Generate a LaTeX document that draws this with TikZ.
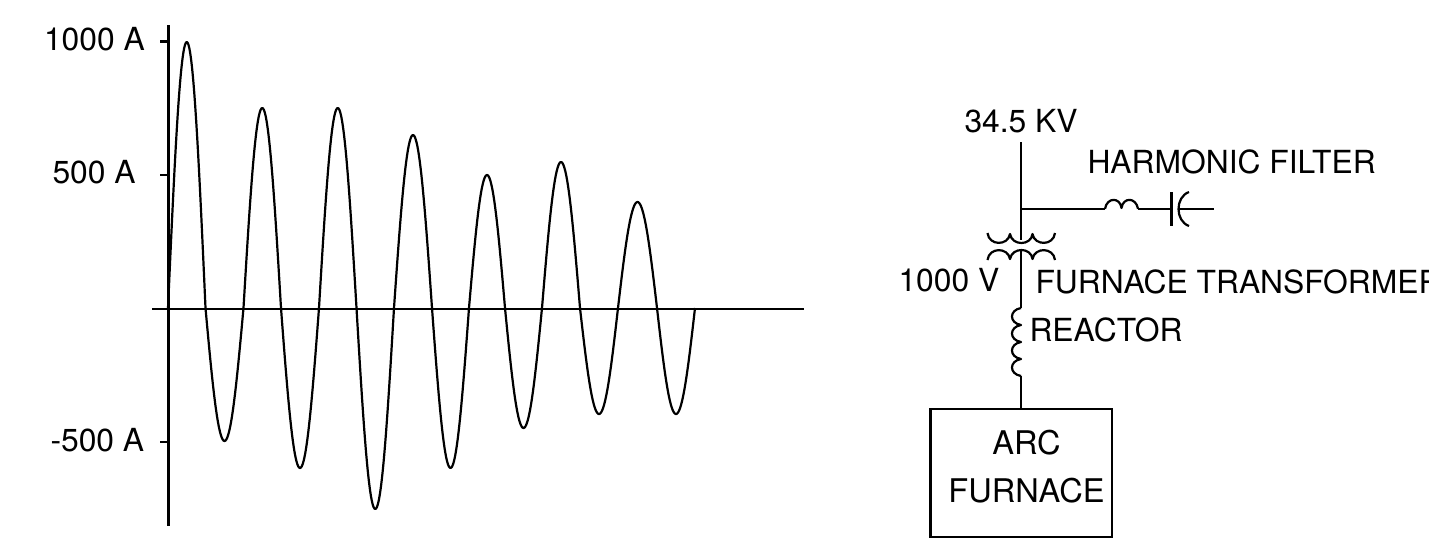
\documentclass[tikz,border=0pt]{standalone}
\usepackage{fontspec}
\setmainfont{TeX Gyre Heros}
\tikzset{
  wire/.style={line width=1.1pt,line join=round},
  wave/.style={line width=1.1pt,line join=round},
  lbl/.style={inner sep=0pt,outer sep=0pt,anchor=base west,font=\fontsize{15.9pt}{18pt}\selectfont},
  boxlbl/.style={inner sep=0pt,outer sep=0pt,anchor=base,font=\fontsize{16.3pt}{18pt}\selectfont},
  box/.style={draw,line width=1.1pt,outer sep=0pt,minimum width=90.7pt,minimum height=64pt,inner sep=0pt,anchor=north west}
}
\newcommand{\halfwave}[3]{%
  \draw[wave] plot[domain=0:180,samples=45,smooth] ({#1+(#2-#1)*\x/180},{308-(#3)*sin(\x)});}
\begin{document}
\begin{tikzpicture}[x=0.5pt,y=-0.5pt]
\useasboundingbox (0,0) rectangle (1429,553);
\clip (0,0) rectangle (1429,553);
% axes
\coordinate (ytop) at (168.5,25);
\coordinate (ybot) at (168.5,526);
\coordinate (xl) at (152,308.8);
\coordinate (xr) at (804,308.8);
\draw[wire] (ytop) -- (ybot);
\draw[wire] (xl) -- (xr);
\coordinate (t1a) at (160,41.5); \coordinate (t1b) at (168.5,41.5);
\coordinate (t2a) at (160,175); \coordinate (t2b) at (168.5,175);
\coordinate (t3a) at (160,442); \coordinate (t3b) at (168.5,442);
\draw[wire] (t1a) -- (t1b);
\draw[wire] (t2a) -- (t2b);
\draw[wire] (t3a) -- (t3b);
\node[lbl] (l1000) at (44,50.5) {1000 A};
\node[lbl] (l500) at (52.5,183.5) {500 A};
\node[lbl] (lm500) at (50.5,451.5) {-500 A};
% waveform
\halfwave{168}{205.5}{266}
\halfwave{205.5}{243.5}{-133}
\halfwave{243.5}{281}{200}
\halfwave{281}{319}{-160}
\halfwave{319}{356.5}{200}
\halfwave{356.5}{394}{-201}
\halfwave{394}{432}{173}
\halfwave{432}{469}{-160}
\halfwave{469}{505}{133}
\halfwave{505}{542}{-120}
\halfwave{542}{580}{146}
\halfwave{580}{618}{-106}
\halfwave{618}{657}{106}
\halfwave{657}{695}{-106}
% one-line circuit
\coordinate (bus) at (1021,142);
\coordinate (tap) at (1021,208.8);
\coordinate (prim) at (1021,240);
\coordinate (sec) at (1021,250);
\coordinate (rtop) at (1021,308);
\coordinate (rbot) at (1021,376);
\node[box] (arc) at (930.5,408.8) {};
\draw[wire] (bus) -- (prim);
\draw[wire] (sec) -- (rtop);
\draw[wire] (rbot) -- (rbot |- arc.north);
% transformer windings
\draw[wire] (987.5,233) .. controls (989,246) and (1008,246) .. (1010,234)
  .. controls (1012,246) and (1031,246) .. (1032.5,234)
  .. controls (1034.5,246) and (1053.5,246) .. (1055,233);
\draw[wire] (987.5,260) .. controls (989,247) and (1008,247) .. (1010,259)
  .. controls (1012,247) and (1031,247) .. (1032.5,259)
  .. controls (1034.5,247) and (1053.5,247) .. (1055,260);
% reactor
\draw[wire] (rtop) .. controls (1009,310) and (1009,323) .. (1021,325)
  .. controls (1009,327) and (1009,340) .. (1021,342)
  .. controls (1009,344) and (1009,357) .. (1021,359)
  .. controls (1009,361) and (1009,374) .. (rbot);
% harmonic filter
\coordinate (la) at (1105,208.8);
\coordinate (lb) at (1138,208.8);
\coordinate (ca) at (1171.5,208.8);
\coordinate (cb) at (1178,208.8);
\coordinate (fend) at (1214,208.8);
\draw[wire] (tap) -- (la);
\draw[wire] (la) .. controls (1107,197) and (1120,197) .. (1121.5,208)
  .. controls (1123,197) and (1136,197) .. (lb);
\draw[wire] (lb) -- (ca);
\draw[wire] (1171.5,192) -- (1171.5,226);
\draw[wire] (1189,192) .. controls (1175,197) and (1175,221) .. (1189,226);
\draw[wire] (cb) -- (fend);
% labels
\node[lbl] (hv) at (964.5,132.5) {34.5 KV};
\node[lbl] (hf) at (1087.5,173) {HARMONIC FILTER};
\node[lbl] (lv) at (898.5,291.5) {1000 V};
\node[lbl] (ft) at (1035.5,293.5) {FURNACE TRANSFORMER};
\node[lbl] (re) at (1029.5,341.5) {REACTOR};
\node[boxlbl] (a1) at (1026.5,454) {ARC};
\node[boxlbl] (a2) at (1026.5,502) {FURNACE};
\end{tikzpicture}
\end{document}
